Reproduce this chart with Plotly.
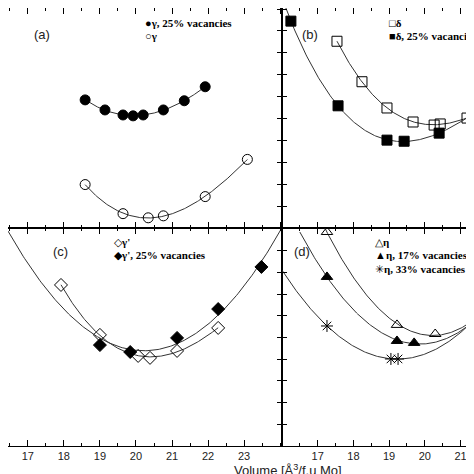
import numpy as np
import plotly.graph_objects as go

# (a)
a_fill_x = [18.59, 19.14, 19.64, 19.92, 20.2, 20.76, 21.34, 21.92]
a_fill_y = [5.85, 5.39, 5.16, 5.12, 5.16, 5.39, 5.81, 6.45]
a_open_x = [18.59, 19.64, 20.34, 20.76, 21.92, 23.09]
a_open_y = [1.98, 0.65, 0.46, 0.55, 1.43, 3.13]
# (b)
b_open_x = [17.54, 18.24, 18.94, 19.67, 20.26, 20.43, 21.18]
b_open_y = [8.53, 6.68, 5.48, 4.84, 4.70, 4.75, 5.02]
b_fill_x = [16.25, 17.57, 18.94, 19.42, 20.40]
b_fill_y = [9.45, 5.58, 4.01, 3.96, 4.33]
# (c)
c_open_x = [17.92, 19.0, 20.06, 20.39, 21.14, 22.28]
c_open_y = [7.42, 5.12, 4.15, 4.06, 4.38, 5.44]
c_fill_x = [19.0, 19.84, 21.14, 22.28, 23.48]
c_fill_y = [4.65, 4.33, 4.98, 6.31, 8.25]
# (d)
d_open_x = [17.26, 19.22, 20.29, 21.35]
d_open_y = [9.86, 5.58, 5.16, 5.76]
d_fill_x = [17.26, 19.22, 19.70, 21.35]
d_fill_y = [7.79, 4.84, 4.75, 5.71]
d_star_x = [17.26, 19.05, 19.25, 21.35]
d_star_y = [5.53, 4.01, 4.01, 5.76]

left_ticks = [17, 18, 19, 20, 21, 22, 23]
right_ticks = [17, 18, 19, 20, 21]

fig = go.Figure()

def add(xs, ys, sym, ax, x0, x1, deg=3, fit_x=None, fit_y=None):
    xa, ya = ax
    fx = xs if fit_x is None else fit_x
    fy = ys if fit_y is None else fit_y
    p = np.polyfit(fx, fy, deg)
    xx = np.linspace(x0, x1, 200)
    fig.add_trace(go.Scatter(x=xx, y=np.polyval(p, xx), mode="lines",
                             line=dict(color="#333", width=1), xaxis=xa, yaxis=ya,
                             showlegend=False, hoverinfo="skip"))
    fig.add_trace(go.Scatter(x=xs, y=ys, mode="markers", xaxis=xa, yaxis=ya,
                             marker=dict(symbol=sym, size=10 if "star" not in sym else 11,
                                         color="black", line=dict(color="black", width=1)),
                             showlegend=False))

A = ("x", "y"); B = ("x2", "y2"); C = ("x3", "y3"); D = ("x4", "y4")
add(a_fill_x, a_fill_y, "circle", A, 18.59, 21.92)
add(a_open_x, a_open_y, "circle-open", A, 18.59, 23.09)
add(b_open_x, b_open_y, "square-open", B, 17.54, 21.6)
add(b_fill_x, b_fill_y, "square", B, 16.0, 21.6)
add(c_open_x, c_open_y, "diamond-open", C, 17.92, 22.28)
add(c_fill_x, c_fill_y, "diamond", C, 16.45, 24.05, 2,
    fit_x=c_fill_x + [16.6], fit_y=c_fill_y + [9.6])
add(d_open_x, d_open_y, "triangle-up-open", D, 16.9, 21.6, 2)
add(d_fill_x, d_fill_y, "triangle-up", D, 16.5, 21.6, 2)
add(d_star_x, d_star_y, "asterisk-open", D, 16.0, 21.6, 2)

xl = [16.45, 24.05]; xr = [16.0, 21.6]; yr = [0, 10.05]
xcommon = dict(showline=True, linecolor="black", linewidth=1.2, ticks="inside",
               ticklen=6, tickcolor="black", dtick=1, showgrid=False, zeroline=False,
               minor=dict(ticks="inside", ticklen=3, dtick=0.5, tickcolor="black"),
               tickfont=dict(family="Liberation Sans", size=11, color="#222"))
ycommon = dict(showline=True, linecolor="black", linewidth=1.2, ticks="inside",
               ticklen=5, tickcolor="black", dtick=1, showgrid=False, zeroline=False,
               showticklabels=False, range=yr)
ld = [0, 0.578]; rd = [0.578, 1]; td = [0.498, 1]; bd = [0, 0.498]
fig.update_layout(
    width=474, height=474, margin=dict(l=0, r=0, t=0, b=36),
    plot_bgcolor="white", paper_bgcolor="white", showlegend=False,
    xaxis=dict(xcommon, domain=ld, range=xl, anchor="y", showticklabels=False, mirror="ticks"),
    yaxis=dict(ycommon, domain=td, anchor="x", side="right"),
    xaxis2=dict(xcommon, domain=rd, range=xr, anchor="y2", showticklabels=False, mirror="ticks"),
    yaxis2=dict(ycommon, domain=td, anchor="x2"),
    xaxis3=dict(xcommon, domain=ld, range=xl, anchor="y3", tickvals=left_ticks, mirror="ticks"),
    yaxis3=dict(ycommon, domain=bd, anchor="x3", side="right"),
    xaxis4=dict(xcommon, domain=rd, range=xr, anchor="y4", tickvals=right_ticks, mirror="ticks"),
    yaxis4=dict(ycommon, domain=bd, anchor="x4"),
)

lab = dict(family="Liberation Sans", size=13, color="#222")
leg = dict(family="Liberation Serif", size=11, color="black")
ann = [
    ("(a)", 0.05, 0.94, lab), ("(b)", 0.615, 0.94, lab), ("(c)", 0.09, 0.445, lab), ("(d)", 0.6, 0.445, lab),
    ("●<b>γ, 25% vacancies</b>", 0.285, 0.965, leg), ("○<b>γ</b>", 0.285, 0.935, leg),
    ("□<b>δ</b>", 0.80, 0.965, leg), ("■<b>δ, 25% vacancies</b>", 0.80, 0.935, leg),
    ("◇<b>γ'</b>", 0.22, 0.465, leg), ("◆<b>γ', 25% vacancies</b>", 0.22, 0.435, leg),
    ("△<b>η</b>", 0.77, 0.465, leg), ("▲<b>η, 17% vacancies</b>", 0.77, 0.435, leg),
    ("✳<b>η, 33% vacancies</b>", 0.77, 0.405, leg),
]
annots = [dict(text=t, x=x, y=y, xref="paper", yref="paper", showarrow=False,
               xanchor="left", yanchor="middle", font=f) for t, x, y, f in ann]
annots.append(dict(text="Volume [Å<sup>3</sup>/f.u Mo]", x=0.59, y=-0.055, xref="paper", yref="paper",
                   showarrow=False, xanchor="center", yanchor="middle",
                   font=dict(family="Liberation Sans", size=13, color="#222")))
fig.update_layout(annotations=annots)
fig.write_html("out.html")
